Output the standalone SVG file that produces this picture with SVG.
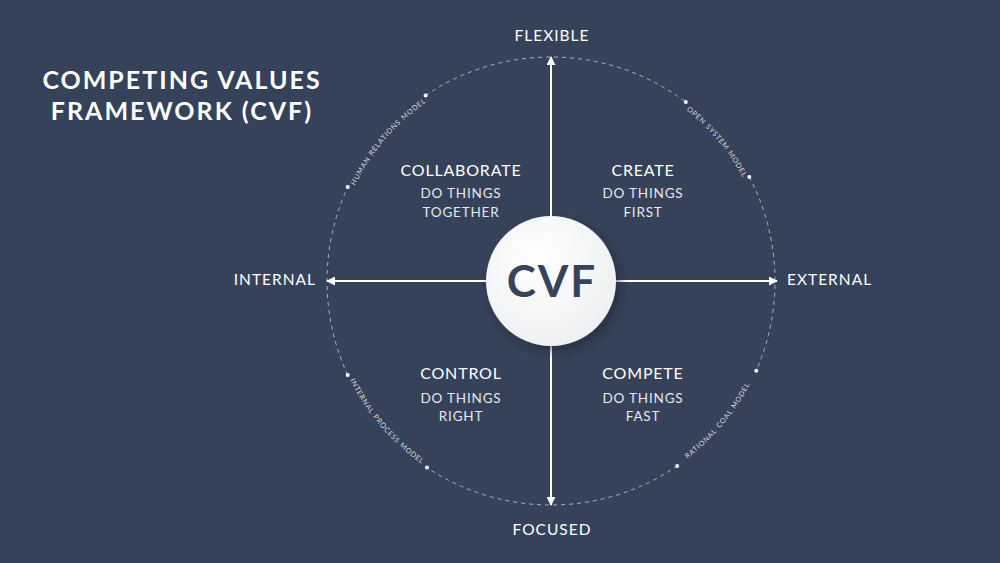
<svg xmlns="http://www.w3.org/2000/svg" width="1000" height="563" viewBox="0 0 1000 563">
  <defs>
    <marker id="arrow" viewBox="0 0 10 10" refX="9" refY="5" markerWidth="4.5" markerHeight="4.5" orient="auto-start-reverse" markerUnits="strokeWidth">
      <path d="M0,0 L10,5 L0,10 Z" fill="#ffffff"/>
    </marker>
    <radialGradient id="disc" cx="40%" cy="35%" r="70%">
      <stop offset="0" stop-color="#ffffff"/>
      <stop offset="1" stop-color="#eeeff1"/>
    </radialGradient>
    <filter id="shadow" x="-30%" y="-30%" width="160%" height="160%">
      <feDropShadow dx="4" dy="5" stdDeviation="5" flood-color="#1c2433" flood-opacity="0.55"/>
    </filter>
    <path id="pHR" d="M340.4,224.6 A218,218 0 0 1 462.3,81.9"/>
    <path id="pOS" d="M643.1,83.4 A218,218 0 0 1 761.6,224.6"/>
    <path id="pIP" d="M334.6,339.0 A224,224 0 0 0 459.9,485.6"/>
    <path id="pRG" d="M645.7,484.0 A224,224 0 0 0 767.4,339.0"/>
  </defs>
  <style>
    .axis { font-family: Lato, "Noto Sans", sans-serif; font-size: 15.5px; fill: #ffffff; letter-spacing: 1px; }
    .qt { font-family: Lato, "Noto Sans", sans-serif; font-size: 16px; fill: #ffffff; letter-spacing: 0.8px; text-anchor: middle; }
    .qs { font-family: Lato, "Noto Sans", sans-serif; font-size: 13.5px; fill: #e6e8ec; letter-spacing: 0.8px; text-anchor: middle; }
    .arc { font-family: Lato, "Noto Sans", sans-serif; font-size: 7.2px; fill: #d3d7de; letter-spacing: 0.7px; text-anchor: middle; }
    .dash { fill: none; stroke: #a9b0bd; stroke-width: 1; stroke-dasharray: 4 4; }
    .dot { fill: #ffffff; }
    .ax { stroke: #ffffff; stroke-width: 2; fill: none; }
  </style>
  <rect x="0" y="0" width="1000" height="563" fill="#364259"/>

  <g id="title">
    <text x="182" y="89" text-anchor="middle" font-family="Lato, 'Noto Sans', sans-serif" font-weight="bold" font-size="25" letter-spacing="2" fill="#ffffff">COMPETING VALUES</text>
    <text x="182" y="120" text-anchor="middle" font-family="Lato, 'Noto Sans', sans-serif" font-weight="bold" font-size="25" letter-spacing="2" fill="#ffffff">FRAMEWORK (CVF)</text>
  </g>

  <g id="ring">
    <path class="dash" d="M425.6,95.4 A224,224 0 0 1 685.8,102.1"/>
    <path class="dash" d="M749.3,176.9 A224,224 0 0 1 756.3,370.7"/>
    <path class="dash" d="M677.2,466.0 A224,224 0 0 1 427.0,467.6"/>
    <path class="dash" d="M347.7,375.0 A224,224 0 0 1 347.7,187.0"/>
    <circle class="dot" cx="425.6" cy="95.4" r="2"/>
    <circle class="dot" cx="685.8" cy="102.1" r="2"/>
    <circle class="dot" cx="749.3" cy="176.9" r="2"/>
    <circle class="dot" cx="756.3" cy="370.7" r="2"/>
    <circle class="dot" cx="677.2" cy="466.0" r="2"/>
    <circle class="dot" cx="427.0" cy="467.6" r="2"/>
    <circle class="dot" cx="347.7" cy="375.0" r="2"/>
    <circle class="dot" cx="347.7" cy="187.0" r="2"/>
  </g>

  <g id="human-relations-model">
    <text class="arc"><textPath href="#pHR" startOffset="57.2">HUMAN</textPath></text>
    <text class="arc"><textPath href="#pHR" startOffset="98.2">RELATIONS</textPath></text>
    <text class="arc"><textPath href="#pHR" startOffset="138.2">MODEL</textPath></text>
  </g>
  <g id="open-system-model">
    <text class="arc"><textPath href="#pOS" startOffset="62">OPEN</textPath></text>
    <text class="arc"><textPath href="#pOS" startOffset="92">SYSTEM</textPath></text>
    <text class="arc"><textPath href="#pOS" startOffset="125.1">MODEL</textPath></text>
  </g>
  <g id="internal-process-model">
    <text class="arc"><textPath href="#pIP" startOffset="64">INTERNAL</textPath></text>
    <text class="arc"><textPath href="#pIP" startOffset="105.3">PROCESS</textPath></text>
    <text class="arc"><textPath href="#pIP" startOffset="141">MODEL</textPath></text>
  </g>
  <g id="rational-goal-model">
    <text class="arc"><textPath href="#pRG" startOffset="69.1">RATIONAL</textPath></text>
    <text class="arc"><textPath href="#pRG" startOffset="103.8">COAL</textPath></text>
    <text class="arc"><textPath href="#pRG" startOffset="132.4">MODEL</textPath></text>
  </g>

  <g id="connectors">
    <line class="ax" x1="551" y1="281" x2="551" y2="57" marker-end="url(#arrow)"/>
    <line class="ax" x1="551" y1="281" x2="551" y2="505" marker-end="url(#arrow)"/>
    <line class="ax" x1="551" y1="281" x2="327" y2="281" marker-end="url(#arrow)"/>
    <line class="ax" x1="551" y1="281" x2="777" y2="281" marker-end="url(#arrow)"/>
  </g>

  <g id="flexible"><text class="axis" x="552" y="41" text-anchor="middle">FLEXIBLE</text></g>
  <g id="focused"><text class="axis" x="552" y="535" text-anchor="middle">FOCUSED</text></g>
  <g id="internal"><text class="axis" x="316" y="285" text-anchor="end">INTERNAL</text></g>
  <g id="external"><text class="axis" x="787" y="285">EXTERNAL</text></g>

  <g id="collaborate">
    <text class="qt" x="461" y="176">COLLABORATE</text>
    <text class="qs" x="461" y="198">DO THINGS</text>
    <text class="qs" x="461" y="217">TOGETHER</text>
  </g>
  <g id="create">
    <text class="qt" x="643" y="176">CREATE</text>
    <text class="qs" x="643" y="198">DO THINGS</text>
    <text class="qs" x="643" y="217">FIRST</text>
  </g>
  <g id="control">
    <text class="qt" x="461" y="379">CONTROL</text>
    <text class="qs" x="461" y="403">DO THINGS</text>
    <text class="qs" x="461" y="421">RIGHT</text>
  </g>
  <g id="compete">
    <text class="qt" x="643" y="379">COMPETE</text>
    <text class="qs" x="643" y="403">DO THINGS</text>
    <text class="qs" x="643" y="421">FAST</text>
  </g>

  <g id="cvf">
    <circle cx="551" cy="281" r="65" fill="url(#disc)" filter="url(#shadow)"/>
    <text x="552" y="297" text-anchor="middle" font-family="Lato, 'Noto Sans', sans-serif" font-weight="bold" font-size="44" letter-spacing="2" fill="#36435a">CVF</text>
  </g>
</svg>
